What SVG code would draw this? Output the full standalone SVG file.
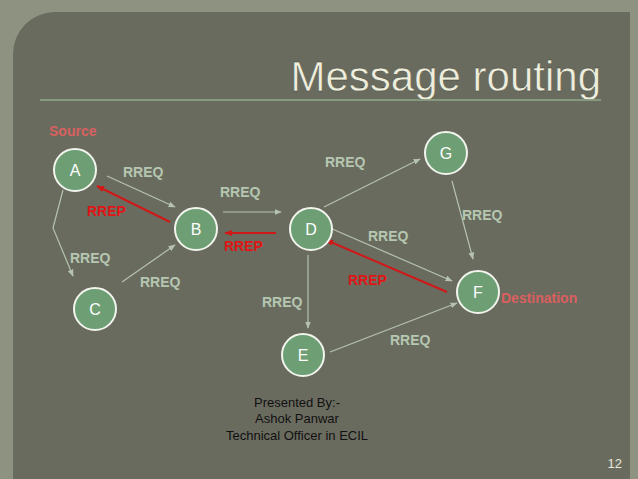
<svg xmlns="http://www.w3.org/2000/svg" width="638" height="479" viewBox="0 0 638 479">
<style>
.n circle{fill:#6e9e74;stroke:#f2f4ee;stroke-width:2}
.n text{font-family:"Liberation Sans",Arial,sans-serif;font-size:16px;fill:#fff;text-anchor:middle}
.l{font-family:"Liberation Sans",Arial,sans-serif;font-size:14px;font-weight:bold;fill:#b5c7b1}
.r{font-family:"Liberation Sans",Arial,sans-serif;font-size:14px;font-weight:bold;fill:#e01515}
.q{stroke:#b5c3b0;stroke-width:1.2;fill:none;marker-end:url(#ga)}
.p{stroke:#d01818;stroke-width:2;fill:none;marker-end:url(#ra)}
.k{font-family:"Liberation Sans",Arial,sans-serif;font-size:13px;fill:#111;text-anchor:middle}
</style>
<defs>
<marker id="ga" viewBox="0 0 10 10" refX="9" refY="5" markerWidth="6" markerHeight="6" orient="auto"><path d="M0,1 L10,5 L0,9 z" fill="#b5c3b0"/></marker>
<marker id="ra" viewBox="0 0 10 10" refX="9" refY="5" markerWidth="4" markerHeight="4" orient="auto"><path d="M0,1 L10,5 L0,9 z" fill="#d01818"/></marker>
</defs>
<rect width="638" height="479" fill="#8e9381"/>
<path d="M55,12 H630 V479 H13 V54 A42,42 0 0 1 55,12 z" fill="#6a6b5f"/>
<text x="601" y="91" font-family="Liberation Sans,Arial,sans-serif" font-size="42" fill="#eeeedd" text-anchor="end" stroke="#3a3a30" stroke-width="0.4">Message routing</text>
<line x1="40" y1="100" x2="601" y2="100" stroke="#8fa88a" stroke-width="1.5"/>
<g id="connectors">
<line class="q" x1="107" y1="176" x2="175" y2="207"/>
<path class="q" d="M63,190 L53,228 L73,276"/>
<line class="q" x1="122" y1="282" x2="175" y2="245"/>
<line class="q" x1="223" y1="212" x2="281" y2="212"/>
<line class="p" x1="276" y1="233" x2="225" y2="233"/>
<line class="p" x1="170" y1="222" x2="97" y2="186"/>
<line class="q" x1="324" y1="207" x2="420" y2="159"/>
<line class="q" x1="330" y1="228" x2="452" y2="281"/>
<line class="p" x1="447" y1="292" x2="326" y2="240"/>
<line class="q" x1="452" y1="181" x2="473" y2="259"/>
<line class="q" x1="308" y1="255" x2="308" y2="328"/>
<line class="q" x1="330" y1="352" x2="457" y2="303"/>
</g>
<g id="A" class="n"><circle cx="75" cy="170" r="21"/><text x="75" y="176">A</text></g>
<g id="B" class="n"><circle cx="196" cy="229" r="21"/><text x="196" y="235">B</text></g>
<g id="C" class="n"><circle cx="95" cy="309" r="21"/><text x="95" y="315">C</text></g>
<g id="D" class="n"><circle cx="311" cy="229" r="21"/><text x="311" y="235">D</text></g>
<g id="G" class="n"><circle cx="446" cy="153" r="21"/><text x="446" y="159">G</text></g>
<g id="F" class="n"><circle cx="478" cy="292" r="21"/><text x="478" y="298">F</text></g>
<g id="E" class="n"><circle cx="303" cy="355" r="21"/><text x="303" y="361">E</text></g>
<text x="49" y="136" class="r" style="fill:#d9605f">Source</text>
<text x="501" y="303" class="r" style="fill:#d9605f">Destination</text>
<text x="123" y="177" class="l">RREQ</text>
<text x="220" y="197" class="l">RREQ</text>
<text x="325" y="167" class="l">RREQ</text>
<text x="462" y="220" class="l">RREQ</text>
<text x="368" y="241" class="l">RREQ</text>
<text x="70" y="263" class="l">RREQ</text>
<text x="140" y="287" class="l">RREQ</text>
<text x="262" y="307" class="l">RREQ</text>
<text x="390" y="345" class="l">RREQ</text>
<text x="87" y="216" class="r">RREP</text>
<text x="224" y="251" class="r">RREP</text>
<text x="348" y="285" class="r">RREP</text>
<text x="297" y="407" class="k">Presented By:-</text>
<text x="297" y="423" class="k">Ashok Panwar</text>
<text x="297" y="440" class="k">Technical Officer in ECIL</text>
<text x="622" y="468" font-family="Liberation Sans,Arial,sans-serif" font-size="13" fill="#e8e8dc" text-anchor="end">12</text>
</svg>
